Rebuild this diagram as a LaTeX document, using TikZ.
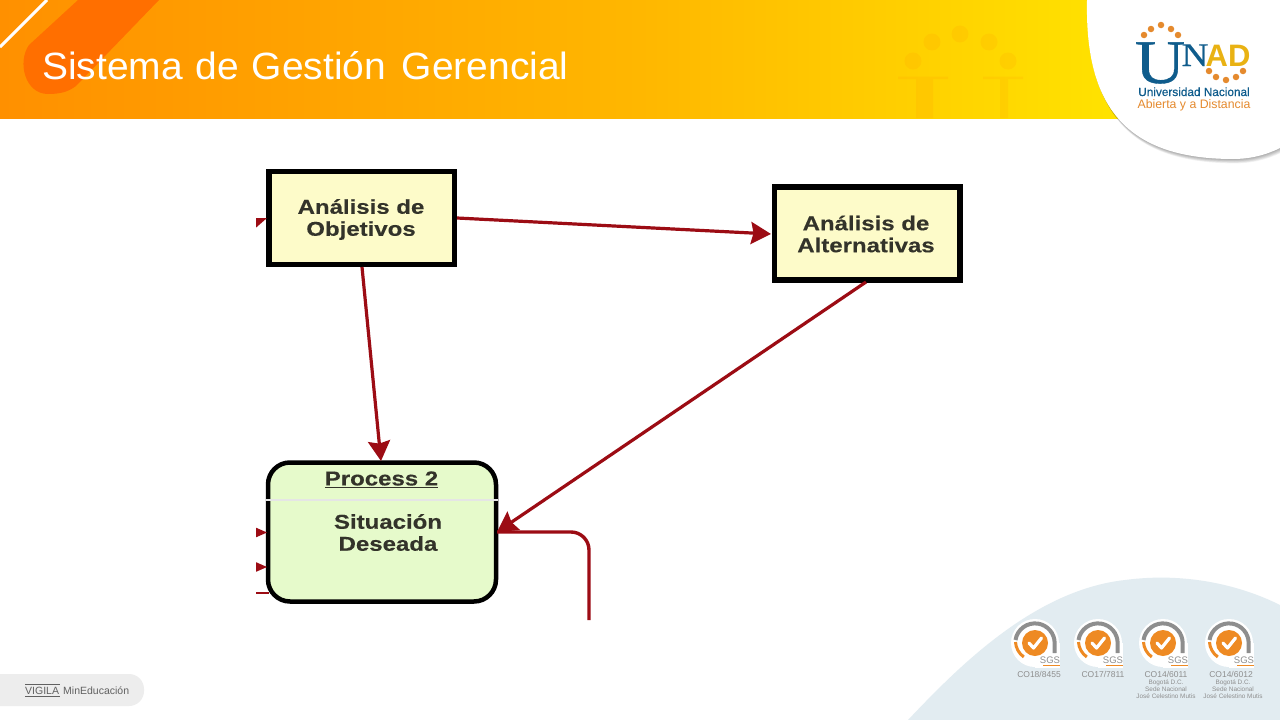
\documentclass[tikz,border=0pt]{standalone}
\usepackage{fontspec}
\setmainfont{Liberation Sans}
\newfontfamily\diagfont[FakeStretch=1.2,FakeBold=0.3]{Liberation Sans}
\newfontfamily\titlefont[FakeStretch=1.025]{Liberation Sans}
\newfontfamily\logoserif[FakeBold=0.6,FakeStretch=1.12]{Liberation Serif}
\newfontfamily\logosans[FakeBold=0.5]{Liberation Sans}
\usetikzlibrary{arrows.meta}
\definecolor{conn}{HTML}{9C0C14}
\definecolor{boxfill}{HTML}{FDFBC9}
\definecolor{procfill}{HTML}{E6FACB}
\definecolor{ink}{HTML}{33332A}
\definecolor{unadblue}{HTML}{0F5C8C}
\definecolor{unadorange}{HTML}{E58A2E}
\definecolor{unadyellow}{HTML}{E9B213}
\definecolor{sealorange}{HTML}{EE8A23}
\definecolor{sealgray}{HTML}{8E8E8E}
\definecolor{palegray}{HTML}{EDEDED}
\definecolor{paleblue}{HTML}{E2ECF1}
\definecolor{stripe}{HTML}{FF6F00}
\tikzset{
  objbox/.style={draw=black,fill=boxfill,line width=5.5pt,minimum width=185.5pt,minimum height=93pt,inner sep=0pt},
  procbox/.style={draw=black,fill=procfill,line width=4.5pt,rounded corners=22pt,minimum width=228pt,minimum height=139pt,inner sep=0pt},
  boxtext/.style={text=ink,align=center,inner sep=0pt,font=\diagfont\bfseries\fontsize{20}{22}\selectfont},
  flow/.style={draw=conn,line width=3.2pt,-{Stealth[length=20pt,width=22pt,inset=2.5pt]}},
  stub/.style={draw=conn,line width=2.5pt},
  dot/.style={fill=unadorange,draw=none,circle,minimum size=6.5pt,inner sep=0pt},
  ghost/.style={fill=orange,fill opacity=0.11,draw=none},
  sealcode/.style={text=sealgray,inner sep=0pt,font=\fontsize{8.5}{9}\selectfont},
  sealnote/.style={text=sealgray,inner sep=0pt,align=center,font=\fontsize{6.4}{6.7}\selectfont},
}
\newcommand{\discoutline}{(1087,-6) -- (1087,0) .. controls (1085,100) and (1120,159) .. (1233,159) .. controls (1250,159) and (1266,155) .. (1280,148) -- (1295,140) -- (1295,-6) -- cycle}
\newcommand{\sealmark}[2]{%
  \begin{scope}[shift={(#1,#2)}]
    \fill[white] (0,0) circle[radius=24pt];
    \fill[white] (0,0) rectangle (25,25);
    \draw[sealgray,line width=4pt] (-19.5,-3) arc[start angle=171,end angle=0,radius=19.7pt] -- (19.7,10);
    \draw[sealorange,line width=3pt] (-19.5,-1) arc[start angle=183,end angle=235,radius=19.5pt];
    \fill[sealorange] (0,0) circle[radius=13pt];
    \draw[white,line width=3.2pt,line cap=round,line join=round] (-6,0) -- (-1.5,5) -- (6.5,-5);
    \node[text=sealgray,inner sep=0pt,font=\fontsize{9.5}{10}\selectfont] at (15,17) {SGS};
    \fill[sealorange] (8,21.5) rectangle (25,22.6);
  \end{scope}}
\begin{document}
\begin{tikzpicture}[x=1pt,y=-1pt]
\useasboundingbox (0,0) rectangle (1280,720);
\fill[white] (0,0) rectangle (1280,720);
% header band
\shade[left color={rgb,255:red,255;green,144;blue,0},right color={rgb,255:red,255;green,183;blue,0}] (0,0) rectangle (640,118);
\shade[left color={rgb,255:red,255;green,183;blue,0},right color={rgb,255:red,255;green,228;blue,0}] (640,0) rectangle (1130,118);
\fill[stripe] (78,0) -- (29,45) .. controls (17,62) and (25,94) .. (48,94) .. controls (60,94) and (68,92) .. (76,86) -- (159,0) -- cycle;
\draw[white,line width=3pt] (47,0) -- (0,47);
% faint pedestals
\fill[ghost] (913,61) circle[radius=8.5pt];
\fill[ghost] (932,42) circle[radius=8.5pt];
\fill[ghost] (960,34) circle[radius=8.5pt];
\fill[ghost] (989,42) circle[radius=8.5pt];
\fill[ghost] (1008,61) circle[radius=8.5pt];
\fill[ghost] (898,76.5) rectangle (948,79) (916,79) rectangle (933,118);
\fill[ghost] (983,76.5) rectangle (1023,79) (1000,79) rectangle (1008,118);
% title
\node[anchor=base west,inner sep=0pt,text=white,font=\titlefont\fontsize{38}{40}\selectfont] (title) at (42,79) {Sistema\hspace{2pt} de\hspace{2pt} Gestión\hspace{5pt} Gerencial};
% logo disc with shadow
\begin{scope}
  \clip (1000,0) rectangle (1280,200);
  \foreach \k in {1,...,8}
    \fill[black,opacity=0.045,shift={(\k*0.25,\k*0.55)}] \discoutline;
  \fill[white] \discoutline;
\end{scope}
% logo
\node[anchor=base,inner sep=0pt,text depth=0pt,text height=40pt,text=unadblue,font=\logoserif\fontsize{62}{62}\selectfont] (logoU) at (1160,83) {U};
\node[anchor=base,inner sep=0pt,text=unadblue,font=\logoserif\fontsize{33}{33}\selectfont] (logoN) at (1195,66) {N};
\node[anchor=base,inner sep=0pt,text=unadyellow,font=\bfseries\fontsize{31}{31}\selectfont] (logoAD) at (1228,66) {AD};
\foreach \x/\y in {1144/35,1151/29,1161/25,1171/29,1178/35,1209/71,1216/77,1226/80,1236/77,1243/71}
  \node[dot] at (\x,\y) {};
\node[anchor=base,inner sep=0pt,text=unadblue,font=\logosans\fontsize{11.8}{12}\selectfont] (logo1) at (1194,96) {Universidad Nacional};
\node[anchor=base,inner sep=0pt,text=unadorange,font=\fontsize{12.3}{12}\selectfont] (logo2) at (1194,108.5) {Abierta y a Distancia};
% bottom right corner shape
\fill[paleblue] (908,720) .. controls (960,665) and (1035,590) .. (1125,580) .. controls (1185,572) and (1240,585) .. (1280,605) -- (1280,720) -- cycle;
\sealmark{1035}{643}
\sealmark{1098}{643}
\sealmark{1163}{643}
\sealmark{1229}{643}
\node[sealcode] (c1) at (1039,674) {CO18/8455};
\node[sealcode] (c2) at (1103,674) {CO17/7811};
\node[sealcode] (c3) at (1166,674) {CO14/6011};
\node[sealcode] (c4) at (1231,674) {CO14/6012};
\node[sealnote,anchor=north] (n3) at (1166,680) {Bogotá D.C.\\Sede Nacional\\José Celestino Mutis};
\node[sealnote,anchor=north] (n4) at (1233,680) {Bogotá D.C.\\Sede Nacional\\José Celestino Mutis};
% bottom left tag
\fill[palegray,rounded corners=15pt] (-30,674) rectangle (144,706);
\node[anchor=base west,inner sep=0pt,text=black!62,font=\fontsize{10.5}{11}\selectfont] (vig) at (25,694) {VIGILA};
\draw[black!62,line width=0.7pt] (25,684) -- (60,684) (25,696) -- (60,696);
\node[anchor=base west,inner sep=0pt,text=black!62,font=\fontsize{10.5}{11}\selectfont] (min) at (63,694.5) {MinEducación};
% diagram
\node[objbox] (obj) at (361.5,218) {};
\node[objbox] (alt) at (867,233.5) {};
\node[procbox] (proc) at (382,532) {};
\coordinate (procE) at (497,532);
\coordinate (objS) at (362,267);
\coordinate (objE) at (457,218);
\coordinate (altW) at (771,234);
\coordinate (altS) at (866,282);
\coordinate (procN) at (381,461);
\coordinate (outEnd) at (589,620);
\coordinate (in1b) at (267,218);
\coordinate (in2b) at (267,532.5);
\coordinate (in3b) at (267,567);
\coordinate (in4a) at (256,593);
\coordinate (in4b) at (269,593);
\draw[line width=1.5pt,draw=white!90!black] (266,500) -- (498,500);
\node[boxtext] (objt) at (361,219.5) {Análisis de\\Objetivos};
\node[boxtext] (altt) at (866,234) {Análisis de\\Alternativas};
\node[boxtext] (proct) at (381.5,479.5) {\underline{Process 2}};
\node[boxtext] (procb) at (388,532.5) {Situación\\Deseada};
\draw[flow] (objE) -- (altW);
\draw[flow] (objS) -- (procN);
\draw[flow] (altS) -- (procE);
\draw[conn,line width=3.4pt,rounded corners=18pt] (procE) -- (589,532) -- (outEnd);
\begin{scope}
  \clip (256,150) rectangle (300,620);
  \fill[conn] (in1b) -- ++(-16,0) -- ++(0,14) -- cycle;
  \fill[conn] (in2b) -- ++(-16,-7) -- ++(0,14) -- cycle;
  \fill[conn] (in3b) -- ++(-16,-7) -- ++(0,14) -- cycle;
  \draw[stub] (in4a) -- (in4b);
\end{scope}
\end{tikzpicture}
\end{document}
